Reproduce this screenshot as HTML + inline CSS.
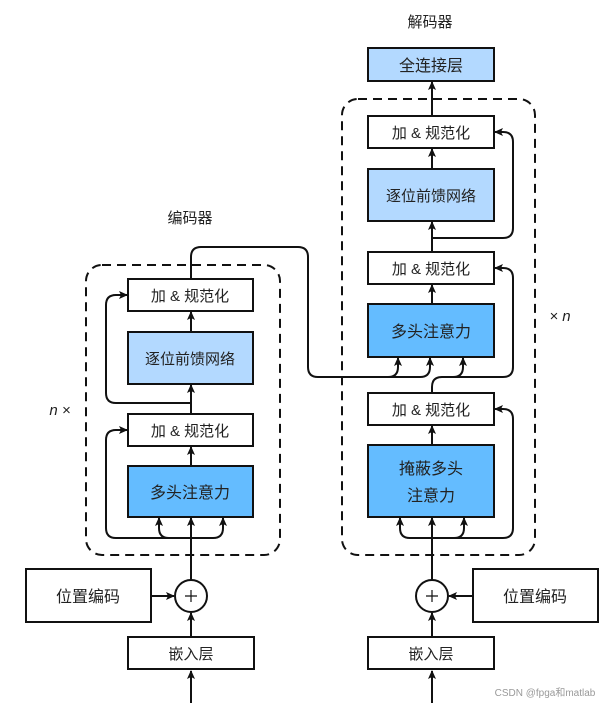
<!DOCTYPE html>
<html><head><meta charset="utf-8"><style>
html,body{margin:0;padding:0;background:#fff;}
svg{display:block;}
text{font-family:"Liberation Sans","Noto Sans CJK SC",sans-serif;fill:#222;}
</style></head><body>
<svg width="606" height="703" viewBox="0 0 606 703" xmlns="http://www.w3.org/2000/svg">
<defs>
<marker id="a" markerWidth="10" markerHeight="10" refX="8" refY="5" orient="auto" markerUnits="userSpaceOnUse">
<path d="M0,1 L9,5 L0,9 L2,5 Z" fill="#111"/>
</marker>
</defs>
<g fill="none" stroke="#111" stroke-width="2">
<!-- dashed boxes -->
<rect x="86" y="265" width="194" height="290" rx="16" stroke-dasharray="9,6"/>
<rect x="342" y="99" width="193" height="456" rx="16" stroke-dasharray="9,6"/>
</g>
<!-- boxes -->
<g stroke="#111" stroke-width="2">
<rect x="128" y="279" width="125" height="32" fill="#fff"/>
<rect x="128" y="332" width="125" height="52" fill="#b3d9ff"/>
<rect x="128" y="414" width="125" height="32" fill="#fff"/>
<rect x="128" y="466" width="125" height="51" fill="#64bcff"/>
<rect x="368" y="48" width="126" height="33" fill="#b3d9ff"/>
<rect x="368" y="116" width="126" height="32" fill="#fff"/>
<rect x="368" y="169" width="126" height="52" fill="#b3d9ff"/>
<rect x="368" y="252" width="126" height="32" fill="#fff"/>
<rect x="368" y="304" width="126" height="53" fill="#64bcff"/>
<rect x="368" y="393" width="126" height="32" fill="#fff"/>
<rect x="368" y="445" width="126" height="72" fill="#64bcff"/>
<rect x="26" y="569" width="125" height="53" fill="#fff"/>
<rect x="473" y="569" width="125" height="53" fill="#fff"/>
<rect x="128" y="637" width="126" height="32" fill="#fff"/>
<rect x="368" y="637" width="126" height="32" fill="#fff"/>
<circle cx="191" cy="596" r="16" fill="#fff"/>
<circle cx="432" cy="596" r="16" fill="#fff"/>
</g>
<g fill="none" stroke="#111" stroke-width="2" marker-end="url(#a)">
<!-- encoder -->
<path d="M191,703 V671"/>
<path d="M191,637 V613"/>
<path d="M151,596 H174"/>
<path d="M191,580 V518"/>
<path d="M191,538 H169 Q159,538 159,528 V518"/>
<path d="M191,538 H213 Q223,538 223,528 V518"/>
<path d="M191,538 H116 Q106,538 106,528 V440 Q106,430 116,430 H127"/>
<path d="M191,466 V447"/>
<path d="M191,414 V385"/>
<path d="M191,403 H116 Q106,403 106,393 V305 Q106,295 116,295 H127"/>
<path d="M191,332 V312"/>
<path d="M191,279 V257 Q191,247 201,247 H298 Q308,247 308,257 V367 Q308,377 318,377 H420 Q430,377 430,367 V358"/>
<path d="M388,377 Q398,377 398,367 V358"/>
<!-- decoder -->
<path d="M432,703 V671"/>
<path d="M432,637 V613"/>
<path d="M473,596 H449"/>
<path d="M432,580 V518"/>
<path d="M432,538 H410 Q400,538 400,528 V518"/>
<path d="M432,538 H454 Q464,538 464,528 V518"/>
<path d="M432,538 H503 Q513,538 513,528 V419 Q513,409 503,409 H495"/>
<path d="M432,445 V426"/>
<path d="M432,393 V387 Q432,377 442,377 H503 Q513,377 513,367 V278 Q513,268 503,268 H495"/>
<path d="M453,377 Q463,377 463,367 V358"/>
<path d="M432,304 V285"/>
<path d="M432,252 V222"/>
<path d="M432,238 H503 Q513,238 513,228 V142 Q513,132 503,132 H495"/>
<path d="M432,169 V149"/>
<path d="M432,116 V82"/>
</g>
<g stroke="#111" stroke-width="1.2">
<path d="M185,596 H197 M191,590 V602 M426,596 H438 M432,590 V602"/>
</g>
<g font-size="15" text-anchor="middle">
<text x="190" y="301">加 &amp; 规范化</text>
<text x="190" y="364">逐位前馈网络</text>
<text x="190" y="436">加 &amp; 规范化</text>
<text x="190" y="498" font-size="16">多头注意力</text>
<text x="431" y="71" font-size="16">全连接层</text>
<text x="431" y="138">加 &amp; 规范化</text>
<text x="431" y="201">逐位前馈网络</text>
<text x="431" y="274">加 &amp; 规范化</text>
<text x="431" y="337" font-size="16">多头注意力</text>
<text x="431" y="415">加 &amp; 规范化</text>
<text x="431" y="474" font-size="16">掩蔽多头</text>
<text x="431" y="501" font-size="16">注意力</text>
<text x="88" y="602" font-size="16">位置编码</text>
<text x="535" y="602" font-size="16">位置编码</text>
<text x="191" y="659">嵌入层</text>
<text x="431" y="659">嵌入层</text>
<text x="190" y="223">编码器</text>
<text x="430" y="27">解码器</text>
<text x="60" y="415" font-style="italic">n ×</text>
<text x="560" y="321" font-style="italic">× n</text>
</g>
<text x="545" y="696" font-size="10" text-anchor="middle" style="fill:#999">CSDN @fpga和matlab</text>
</svg>
</body></html>
